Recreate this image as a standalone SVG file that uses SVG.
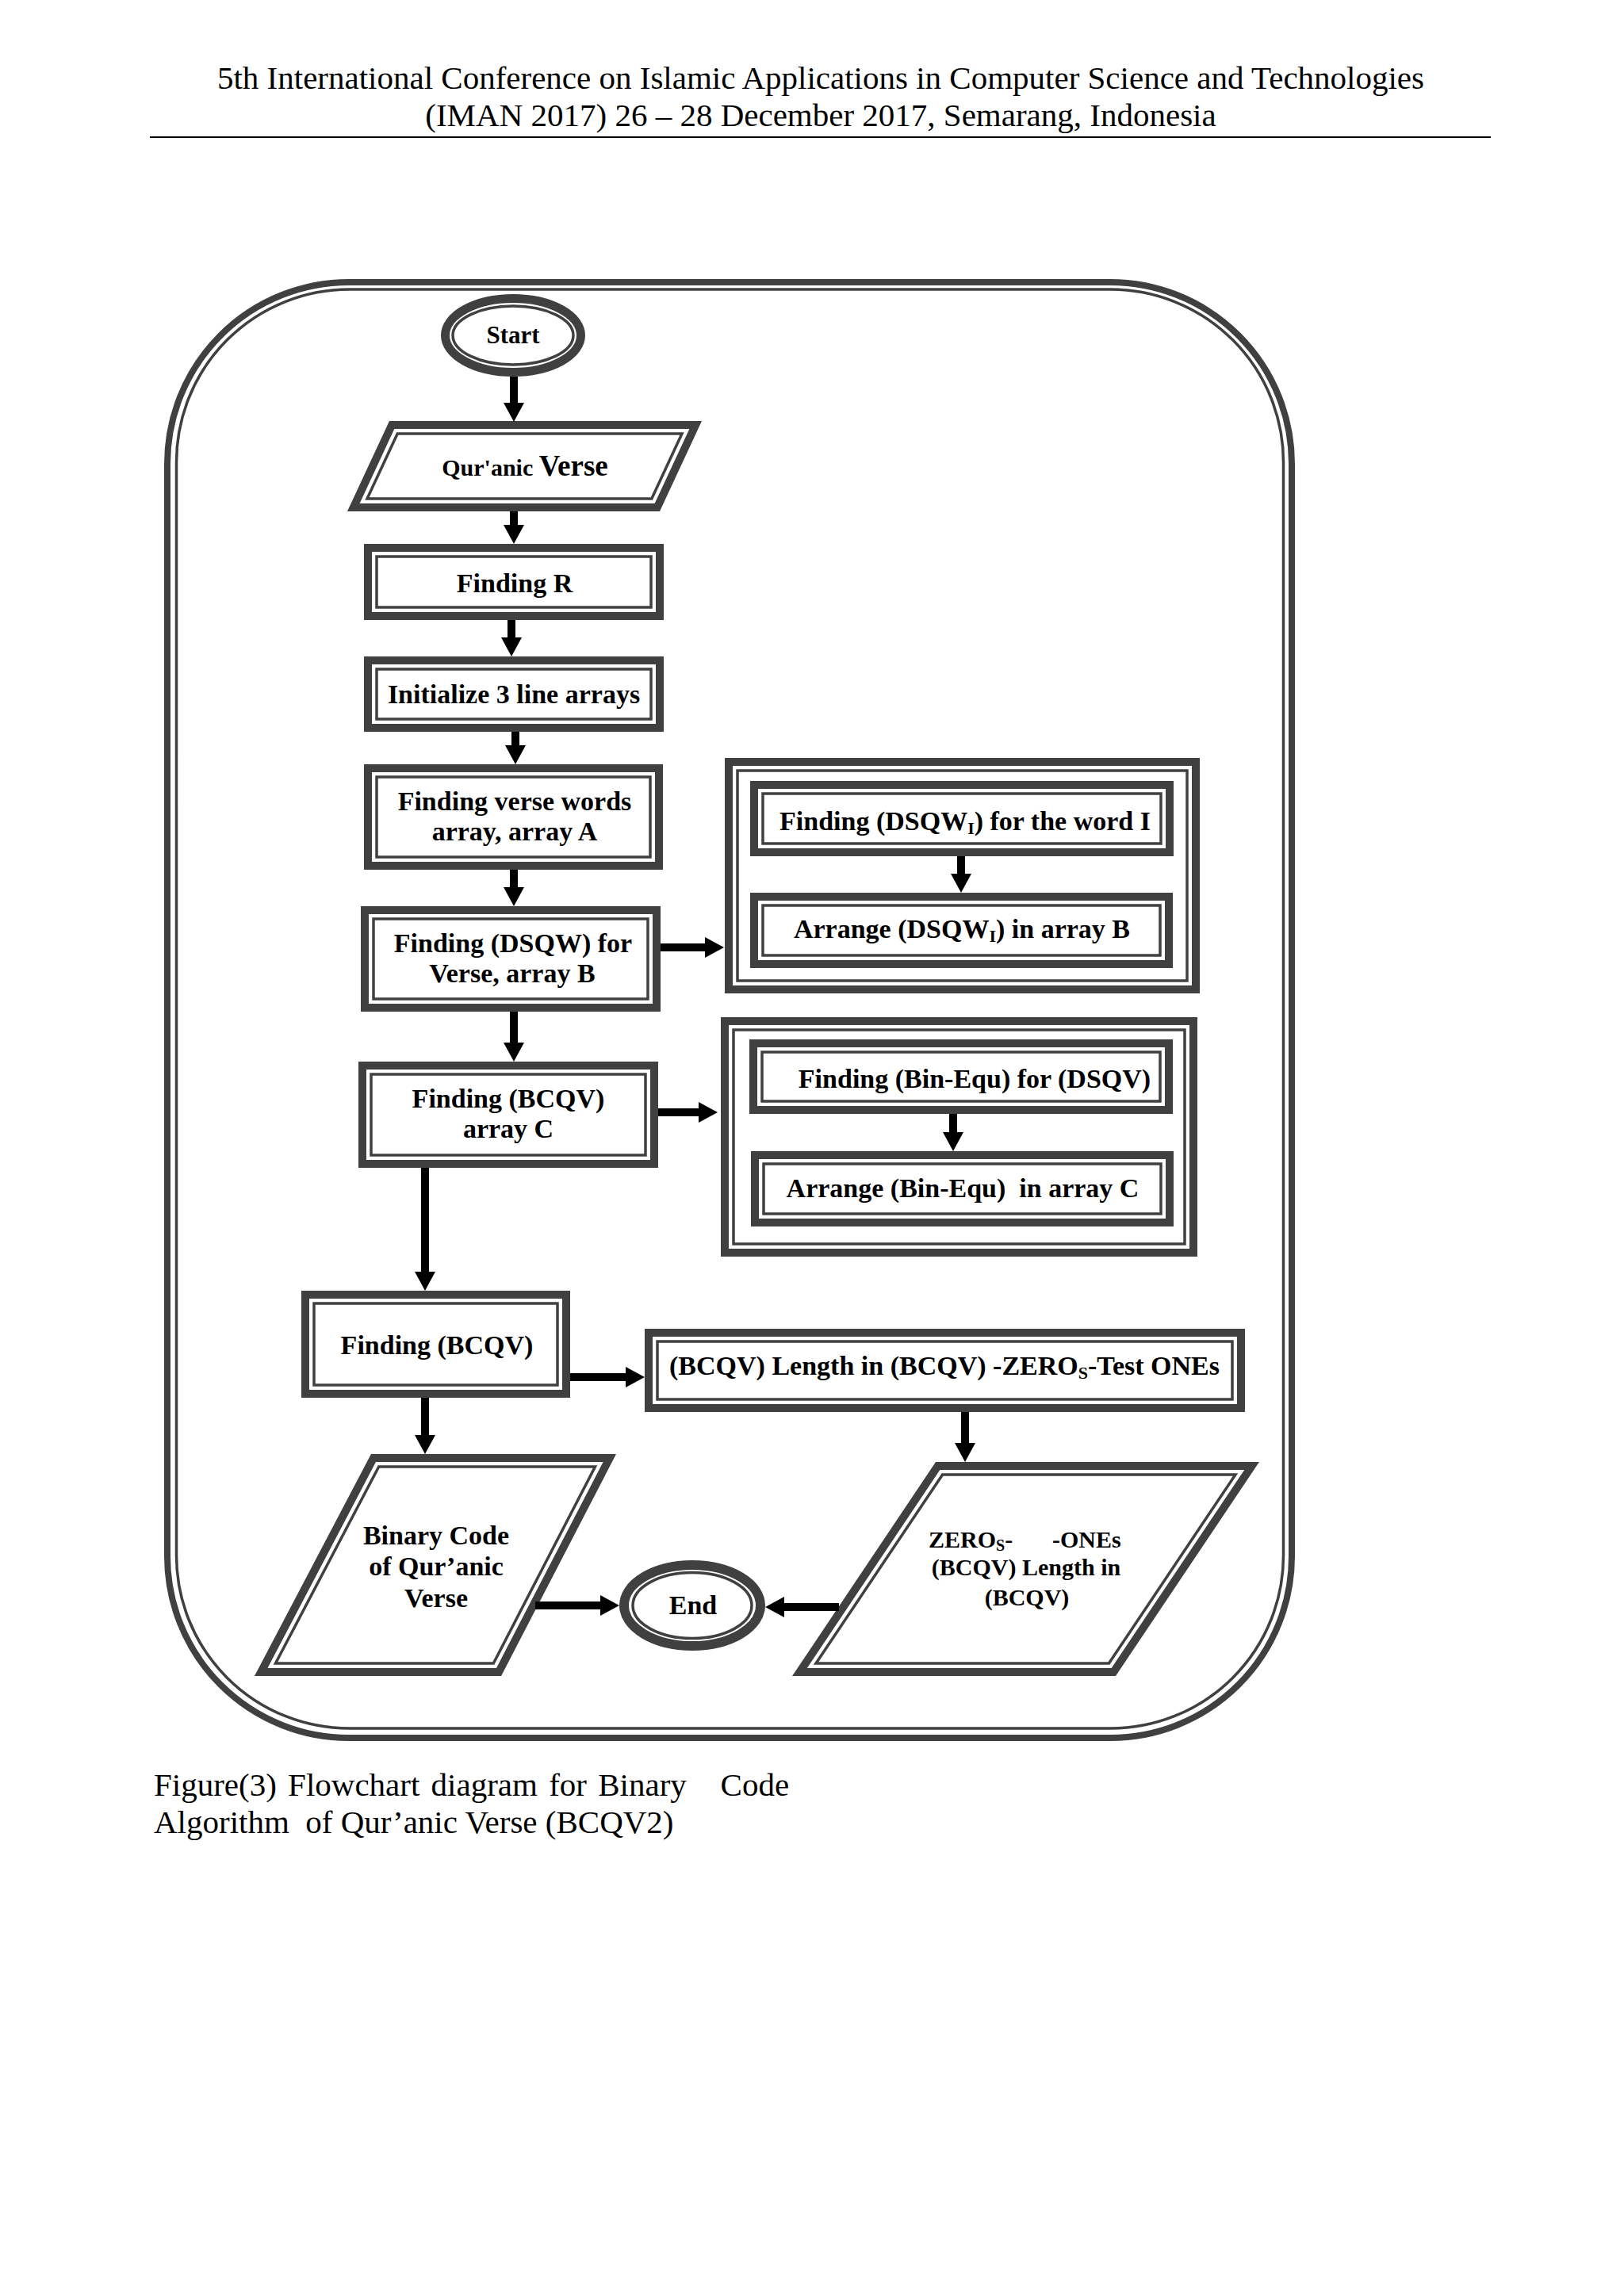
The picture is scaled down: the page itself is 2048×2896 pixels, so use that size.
<svg xmlns="http://www.w3.org/2000/svg" width="2048" height="2896" viewBox="0 0 2048 2896">
<style>
.thick{fill:#fff;stroke:#404040;stroke-width:10}
.thin{fill:none;stroke:#404040;stroke-width:3.5}
.lbl{font-family:"Liberation Serif","Times New Roman",serif;font-weight:bold;font-size:34px;fill:#000;text-anchor:middle}
.sm{font-size:30px}
.hdr{font-family:"Liberation Serif","Times New Roman",serif;font-size:41px;fill:#000}
.conn{fill:none;stroke:#000;stroke-width:10}
</style>
<defs>
<marker id="ah" markerUnits="userSpaceOnUse" markerWidth="26" markerHeight="26" viewBox="0 0 26 26" refX="4" refY="13" orient="auto"><path d="M0,0 L24,13 L0,26 Z" fill="#000"/></marker>
</defs>
<rect width="2048" height="2896" fill="#fff"/>

<g id="header">
<text class="hdr" x="1035" y="112" text-anchor="middle">5th International Conference on Islamic Applications in Computer Science and Technologies</text>
<text class="hdr" x="1035" y="159" text-anchor="middle">(IMAN 2017) 26 – 28 December 2017, Semarang, Indonesia</text>
<line x1="189" y1="173" x2="1880" y2="173" stroke="#000" stroke-width="2"/>
</g>

<g id="frame">
<rect x="211" y="356" width="1418" height="1836" rx="229" ry="229" fill="none" stroke="#404040" stroke-width="8"/>
<rect x="222.5" y="365" width="1396" height="1815" rx="218" ry="218" fill="none" stroke="#404040" stroke-width="3.5"/>
</g>

<g id="start">
<ellipse class="thick" cx="647" cy="423" rx="85.5" ry="46.5" style="stroke-width:11"/>
<ellipse class="thin" cx="647" cy="423" rx="76" ry="37"/>
<text class="lbl" x="647" y="433" style="font-size:31px">Start</text>
</g>

<g id="quranic-verse">
<path class="thick" d="M494.2,536 L877.2,536 L828.8,640 L445.8,640 Z"/>
<path class="thin" d="M501.2,547 L860,547 L821.8,629 L463,629 Z"/>
<text class="lbl" x="662" y="600"><tspan style="font-size:30px">Qur'anic </tspan><tspan style="font-size:37px">Verse</tspan></text>
</g>

<g id="finding-r">
<rect class="thick" x="464" y="691" width="368" height="86"/>
<rect class="thin" x="475" y="702" width="346" height="64"/>
<text class="lbl" x="649" y="747">Finding R</text>
</g>

<g id="initialize">
<rect class="thick" x="464" y="833" width="368" height="85"/>
<rect class="thin" x="475" y="844" width="346" height="63"/>
<text class="lbl" x="648" y="887">Initialize 3 line arrays</text>
</g>

<g id="verse-words">
<rect class="thick" x="464" y="969" width="367" height="123"/>
<rect class="thin" x="475" y="980" width="345" height="101"/>
<text class="lbl" x="649" y="1022">Finding verse words</text>
<text class="lbl" x="649" y="1060">array, array A</text>
</g>

<g id="dsqw">
<rect class="thick" x="460" y="1148" width="368" height="123"/>
<rect class="thin" x="471" y="1159" width="346" height="101"/>
<text class="lbl" x="647" y="1201">Finding (DSQW) for</text>
<text class="lbl" x="646" y="1239">Verse, array B</text>
</g>

<g id="dsqw-loop">
<rect class="thick" x="919" y="961" width="589" height="287"/>
<rect class="thin" x="930" y="972" width="567" height="265"/>
<g id="dsqw-word">
<rect class="thick" x="951" y="990" width="524" height="85"/>
<rect class="thin" x="962" y="1001" width="502" height="63"/>
<text class="lbl" x="1217" y="1047">Finding (DSQW<tspan style="font-size:22px" dy="5">I</tspan><tspan dy="-5">) for the word I</tspan></text>
</g>
<g id="dsqw-arrange">
<rect class="thick" x="951" y="1131" width="523" height="85"/>
<rect class="thin" x="962" y="1142" width="501" height="63"/>
<text class="lbl" x="1213" y="1183">Arrange (DSQW<tspan style="font-size:22px" dy="5">I</tspan><tspan dy="-5">) in array B</tspan></text>
</g>
</g>

<g id="bcqv-array">
<rect class="thick" x="457" y="1344" width="368" height="124"/>
<rect class="thin" x="468" y="1355" width="346" height="102"/>
<text class="lbl" x="641" y="1397">Finding (BCQV)</text>
<text class="lbl" x="641" y="1435">array C</text>
</g>

<g id="bin-loop">
<rect class="thick" x="914" y="1288" width="591" height="292"/>
<rect class="thin" x="925" y="1299" width="569" height="270"/>
<g id="bin-find">
<rect class="thick" x="950" y="1316" width="524" height="84"/>
<rect class="thin" x="961" y="1327" width="502" height="62"/>
<text class="lbl" x="1229" y="1372">Finding (Bin-Equ) for (DSQV)</text>
</g>
<g id="bin-arrange">
<rect class="thick" x="952" y="1457" width="523" height="85"/>
<rect class="thin" x="963" y="1468" width="501" height="63"/>
<text class="lbl" x="1214" y="1510">Arrange (Bin-Equ)&#160; in array C</text>
</g>
</g>

<g id="finding-bcqv">
<rect class="thick" x="385" y="1633" width="329" height="125"/>
<rect class="thin" x="396" y="1644" width="307" height="103"/>
<text class="lbl" x="551" y="1708">Finding (BCQV)</text>
</g>

<g id="length">
<rect class="thick" x="818" y="1681" width="747" height="95"/>
<rect class="thin" x="829" y="1692" width="725" height="73"/>
<text class="lbl" x="1191" y="1734">(BCQV) Length in (BCQV) -ZERO<tspan style="font-size:22px" dy="5">S</tspan><tspan dy="-5">-Test ONEs</tspan></text>
</g>

<g id="binary-code">
<path class="thick" d="M471,1839 L768.8,1839 L629,2109 L329.2,2109 Z"/>
<path class="thin" d="M477.7,1850 L750.5,1850 L622.3,2098 L347.5,2098 Z"/>
<text class="lbl" x="550" y="1948">Binary Code</text>
<text class="lbl" x="550" y="1987">of Qur’anic</text>
<text class="lbl" x="550" y="2027">Verse</text>
</g>

<g id="zeros-ones">
<path class="thick" d="M1182.7,1849 L1578.6,1849 L1404.3,2109 L1008.4,2109 Z"/>
<path class="thin" d="M1188.6,1860 L1558,1860 L1398.4,2098 L1029,2098 Z"/>
<text class="lbl sm" x="1171" y="1952" style="text-anchor:start">ZERO<tspan style="font-size:20px" dy="4">S</tspan><tspan dy="-4">-</tspan><tspan x="1327">-ONEs</tspan></text>
<text class="lbl sm" x="1294" y="1987">(BCQV) Length in</text>
<text class="lbl sm" x="1295" y="2025">(BCQV)</text>
</g>

<g id="end">
<ellipse class="thick" cx="873" cy="2025" rx="86" ry="51" style="stroke-width:12"/>
<ellipse class="thin" cx="873" cy="2025" rx="75" ry="41.5"/>
<text class="lbl" x="874" y="2036">End</text>
</g>

<g id="connectors">
<path class="conn" marker-end="url(#ah)" d="M648,475 V512"/>
<path class="conn" marker-end="url(#ah)" d="M648,645 V666"/>
<path class="conn" marker-end="url(#ah)" d="M645,782 V808"/>
<path class="conn" marker-end="url(#ah)" d="M650,923 V944"/>
<path class="conn" marker-end="url(#ah)" d="M648,1097 V1123"/>
<path class="conn" marker-end="url(#ah)" d="M833,1195 H893"/>
<path class="conn" marker-end="url(#ah)" d="M1212,1080 V1106"/>
<path class="conn" marker-end="url(#ah)" d="M648,1276 V1319"/>
<path class="conn" marker-end="url(#ah)" d="M830,1403 H885"/>
<path class="conn" marker-end="url(#ah)" d="M1202,1405 V1432"/>
<path class="conn" marker-end="url(#ah)" d="M536,1473 V1608"/>
<path class="conn" marker-end="url(#ah)" d="M719,1737 H793"/>
<path class="conn" marker-end="url(#ah)" d="M536,1763 V1814"/>
<path class="conn" marker-end="url(#ah)" d="M1217,1781 V1824"/>
<path class="conn" marker-end="url(#ah)" d="M675,2025 H761"/>
<path class="conn" marker-end="url(#ah)" d="M1058,2027 H985"/>
</g>

<g id="caption">
<text class="hdr" x="194" y="2265" word-spacing="4">Figure(3) Flowchart diagram for Binary&#160;&#160; Code</text>
<text class="hdr" x="194" y="2312">Algorithm&#160; of Qur’anic Verse (BCQV2)</text>
</g>
</svg>
